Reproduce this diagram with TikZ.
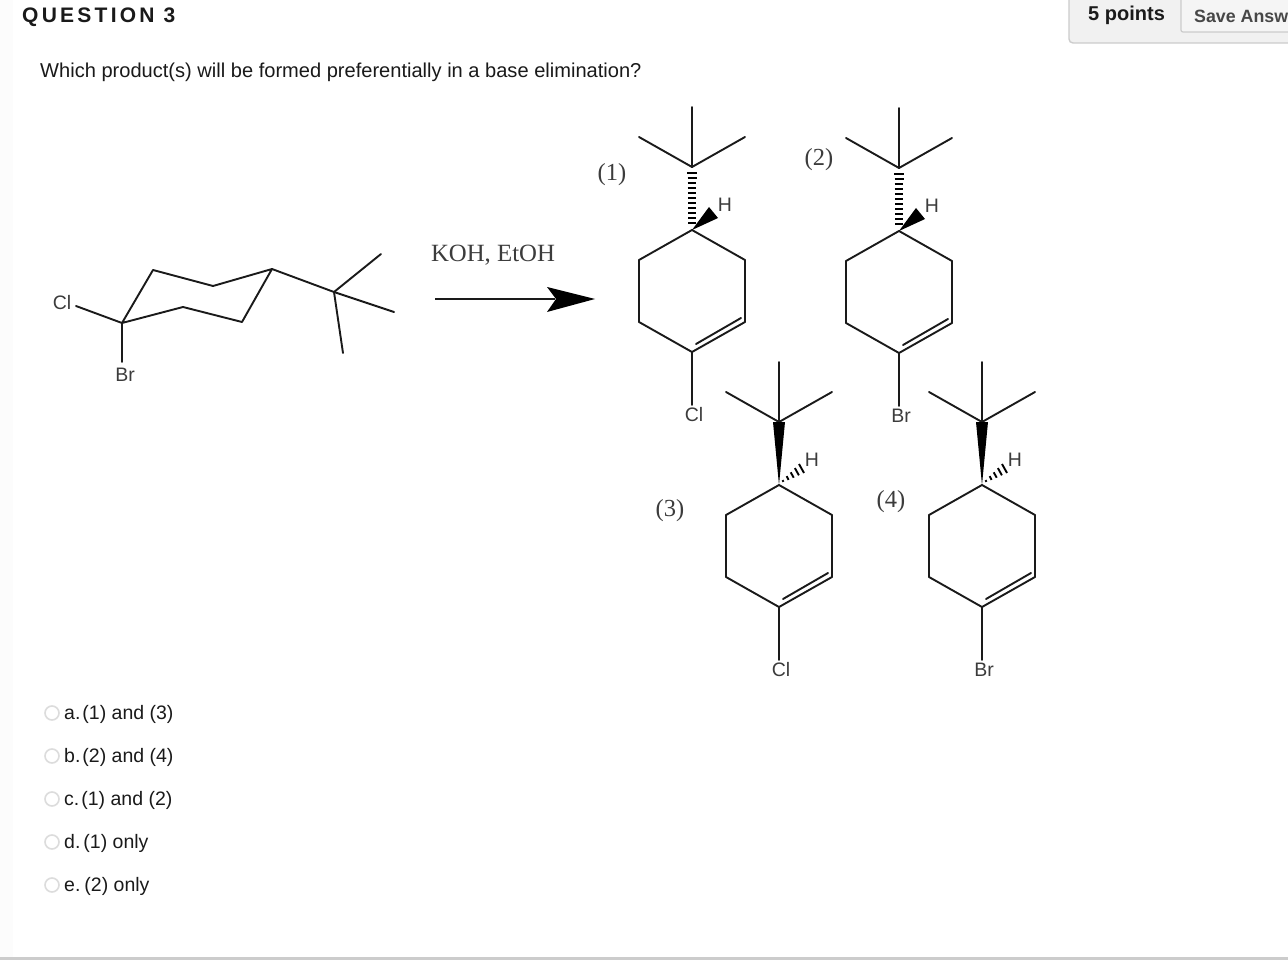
\documentclass[tikz,border=0pt]{standalone}
\usepackage{fontspec}
\setmainfont{Liberation Sans}
\newfontfamily\serifchem{Liberation Serif}
\definecolor{ink}{HTML}{1A1A1A}
\definecolor{panelfill}{HTML}{F1F1F1}
\definecolor{panelline}{HTML}{CCCCCC}
\definecolor{radioline}{HTML}{DCDCDC}
\definecolor{savegrey}{HTML}{474747}
\tikzset{
  bond/.style={draw=ink,line width=1.9pt,line join=round,line cap=round},
  wedgefill/.style={fill=black,draw=none},
  hashbar/.style={draw=black,line width=2.3pt},
  atom/.style={font=\fontsize{19.5}{20}\selectfont,text=ink!85!white,inner sep=0pt},
  serifatom/.style={font=\serifchem\fontsize{24.5}{25}\selectfont,text=ink!85!white,inner sep=0pt},
  para/.style={font=\fontsize{20.07}{20}\selectfont,text=ink,inner sep=0pt,anchor=base west},
  option/.style={font=\fontsize{19.5}{20}\selectfont,text=ink,inner sep=0pt,anchor=base west},
  radio/.style={circle,draw=radioline,fill=white,line width=1.6pt,minimum size=14pt,inner sep=0pt},
}
% ring and tert-butyl skeleton common to the four products
\newcommand{\skeleton}[4]{%
  \begin{scope}[shift={(#2,#3)}]
    \coordinate (#1top) at (0,0);
    \coordinate (#1ul) at (-53,30);
    \coordinate (#1ur) at (53,30);
    \coordinate (#1ll) at (-53,92);
    \coordinate (#1lr) at (53,92);
    \coordinate (#1bot) at (0,122);
    \coordinate (#1dba) at (4,114);
    \coordinate (#1dbb) at (49,88);
    \coordinate (#1xend) at (0,175);
    \coordinate (#1tb) at (0,-63);
    \coordinate (#1me) at (0,-123);
    \coordinate (#1ma) at (-53,-93);
    \coordinate (#1mb) at (53,-93);
    \node[atom] (#1x) at (2,185) {#4};
    \node[atom] (#1h) at (33,-25) {H};
    \draw[bond] (#1top) -- (#1ul) -- (#1ll) -- (#1bot) -- (#1lr) -- (#1ur) -- cycle;
    \draw[bond] (#1dba) -- (#1dbb);
    \draw[bond] (#1bot) -- (#1xend);
    \draw[bond] (#1tb) -- (#1me);
    \draw[bond] (#1tb) -- (#1ma);
    \draw[bond] (#1tb) -- (#1mb);
  \end{scope}}
% tBu hashed, H wedged
\newcommand{\hashedtbu}[3]{%
  \begin{scope}[shift={(#2,#3)}]
    \foreach \yy/\ww in {-57/4.6,-52/4.5,-47/4.4,-42/4.3,-37/4.2,-32/4.1,-27/4.0,-22/3.9,-17/3.8,-12/3.7,-7/3.6}
      \draw[hashbar] (-\ww,\yy) -- (\ww,\yy);
    \fill[wedgefill] (#1top) -- (17,-23) -- (26,-12) -- cycle;
  \end{scope}}
% tBu wedged, H hashed
\newcommand{\wedgedtbu}[3]{%
  \begin{scope}[shift={(#2,#3)}]
    \fill[wedgefill] (-6,-63) -- (6,-63) -- (#1top) -- cycle;
    \foreach \cx/\cy/\hx/\hy in {4/-4/0.5/0.8, 8.6/-7/1/1.9, 13.2/-10/1.5/2.7, 17.9/-13.3/2/3.6, 22.5/-16.5/2.5/4.5}
      \draw[draw=black,line width=1.9pt] ({\cx-\hx},{\cy-\hy}) -- ({\cx+\hx},{\cy+\hy});
  \end{scope}}
\begin{document}
\begin{tikzpicture}[x=1pt,y=-1pt]
\useasboundingbox (0,0) rectangle (1288,960);
\fill[white] (0,0) rectangle (1288,960);
\fill[black!1] (0,0) rectangle (13,958);
\fill[panelline] (0,957) rectangle (1288,960);
% header panel
\draw[draw=panelline,fill=panelfill,line width=1.4pt,rounded corners=4pt] (1069,-8) -- (1069,43) -- (1300,43) -- (1300,-8) -- cycle;
\draw[draw=panelline,fill=panelfill!70!white,line width=1.2pt,rounded corners=2pt] (1181,-8) -- (1181,32) -- (1300,32) -- (1300,-8) -- cycle;
\node[para,font=\bfseries\fontsize{21}{21}\selectfont\addfontfeatures{LetterSpace=15.5}] (qtitle) at (22,23) {QUESTION 3};
\node[para,font=\bfseries\fontsize{20}{20}\selectfont] (pts) at (1088,20.5) {5 points};
\node[para,font=\bfseries\fontsize{17.8}{18}\selectfont,text=savegrey] (save) at (1194,22.5) {Save Answ};
\node[para] (question) at (40,78) {Which product(s) will be formed preferentially in a base elimination?};
% starting material
\coordinate (a1) at (122,323);
\coordinate (a2) at (153,270);
\coordinate (a3) at (213,286);
\coordinate (a4) at (272,269);
\coordinate (a5) at (242,322);
\coordinate (a6) at (183,307);
\coordinate (atb) at (334,292);
\coordinate (am1) at (381,254);
\coordinate (am2) at (394,312);
\coordinate (am3) at (343,353);
\coordinate (acl) at (76,306);
\coordinate (abr) at (122,362);
\node[atom] (cllabel) at (62,303) {Cl};
\node[atom] (brlabel) at (125,375) {Br};
\draw[bond] (a1) -- (a2) -- (a3) -- (a4) -- (a5) -- (a6) -- cycle;
\draw[bond] (a4) -- (atb);
\draw[bond] (atb) -- (am1);
\draw[bond] (atb) -- (am2);
\draw[bond] (atb) -- (am3);
\draw[bond] (a1) -- (acl);
\draw[bond] (a1) -- (abr);
% reaction arrow
\node[serifatom,font=\serifchem\fontsize{24.8}{25}\selectfont] (reagent) at (493,255) {KOH, EtOH};
\coordinate (arrs) at (435,299);
\coordinate (arre) at (595,299);
\draw[bond,line cap=butt] (arrs) -- (555,299);
\fill[wedgefill] (arre) -- (547,287) -- (556,299) -- (547,312) -- cycle;
% products
\skeleton{p}{692}{230}{Cl}
\hashedtbu{p}{692}{230}
\skeleton{q}{899}{231}{Br}
\hashedtbu{q}{899}{231}
\skeleton{r}{779}{485}{Cl}
\wedgedtbu{r}{779}{485}
\skeleton{s}{982}{485}{Br}
\wedgedtbu{s}{982}{485}
\node[serifatom] (n1) at (612,174.5) {(1)};
\node[serifatom] (n2) at (819,159.5) {(2)};
\node[serifatom] (n3) at (670,510.5) {(3)};
\node[serifatom] (n4) at (891,501.5) {(4)};
% answer options
\node[radio] (ra) at (52,713) {};
\node[radio] (rb) at (52,756) {};
\node[radio] (rc) at (52,799) {};
\node[radio] (rd) at (52,842) {};
\node[radio] (re) at (52,885) {};
\node[option] (oa) at (64,719) {a.\kern2pt(1) and (3)};
\node[option] (ob) at (64,762) {b.\kern2pt(2) and (4)};
\node[option] (oc) at (64,805) {c.\kern2pt(1) and (2)};
\node[option] (od) at (64,848) {d.\kern3pt(1) only};
\node[option] (oe) at (64,891) {e.\kern4pt(2) only};
\end{tikzpicture}
\end{document}
